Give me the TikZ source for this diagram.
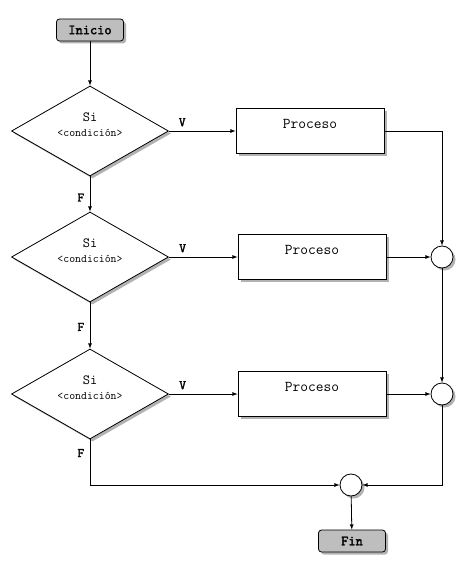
\documentclass[tikz,border=0pt]{standalone}
\usepackage{fontspec}
\setmonofont[BoldFont=*,BoldFeatures={FakeBold=2.5}]{Latin Modern Mono}
\usetikzlibrary{shapes.geometric,shadows}
\definecolor{termgray}{RGB}{190,190,190}
\tikzset{
  softshadow/.style={drop shadow={shadow xshift=2.5pt,shadow yshift=-2.5pt,fill=black!60,opacity=.5}},
  term/.style={rectangle,rounded corners=3pt,draw,fill=termgray,minimum width=67pt,minimum height=22pt,softshadow,font=\ttfamily\bfseries\fontsize{14}{16}\selectfont},
  cond/.style={diamond,draw,fill=white,minimum width=157pt,minimum height=90pt,aspect=1.74,inner sep=0pt,softshadow},
  condtext/.style={align=center,inner sep=0pt,font=\ttfamily\fontsize{14}{15}\selectfont},
  proc/.style={rectangle,draw,fill=white,minimum width=148pt,minimum height=45pt,softshadow},
  proctext/.style={inner sep=0pt,font=\ttfamily\fontsize{15}{17}\selectfont},
  merge/.style={circle,draw,fill=white,minimum size=22pt,inner sep=0pt,softshadow},
  tag/.style={font=\ttfamily\bfseries\fontsize{13}{15}\selectfont},
}
\begin{document}
\begin{tikzpicture}[x=1pt,y=-1pt,>=latex,line width=0.8pt]
\useasboundingbox (0,0) rectangle (465,564);

\node[term] (inicio) at (90,30) {Inicio};

\node[cond] (c1) at (90,131) {};
\node[cond] (c2) at (90,257) {};
\node[cond] (c3) at (90,394) {};
\node[condtext] (ct1) at ([yshift=6pt]c1.center) {Si\\[0pt]{\fontsize{11.5}{12}\selectfont <condición>}};
\node[condtext] (ct2) at ([yshift=6pt]c2.center) {Si\\[0pt]{\fontsize{11.5}{12}\selectfont <condición>}};
\node[condtext] (ct3) at ([yshift=6pt]c3.center) {Si\\[0pt]{\fontsize{11.5}{12}\selectfont <condición>}};

\node[proc] (p1) at (310,131) {};
\node[proc] (p2) at (312,257) {};
\node[proc] (p3) at (312,394) {};
\node[proctext] (pt1) at ([yshift=7pt]p1.center) {Proceso};
\node[proctext] (pt2) at ([yshift=7pt]p2.center) {Proceso};
\node[proctext] (pt3) at ([yshift=7pt]p3.center) {Proceso};

\node[merge] (m1) at (442,257) {};
\node[merge] (m2) at (442,394) {};
\node[merge] (m3) at (351,485) {};

\node[term] (fin) at (352,541) {Fin};

\draw[->] (inicio) -- (c1);
\draw[->] (c1) -- (p1) node[tag,above=1pt,pos=.2]{V};
\draw[->] (c1) -- (c2) node[tag,left=2pt,pos=.6]{F};
\draw[->] (c2) -- (p2) node[tag,above=1pt,pos=.2]{V};
\draw[->] (c2) -- (c3) node[tag,left=2pt,pos=.53]{F};
\draw[->] (c3) -- (p3) node[tag,above=1pt,pos=.2]{V};
\draw[->] (c3) |- (m3) node[tag,left=2pt,pos=.15]{F};
\draw[->] (p1) -| (m1);
\draw[->] (p2) -- (m1);
\draw[->] (m1) -- (m2);
\draw[->] (p3) -- (m2);
\draw[->] (m2) |- (m3);
\draw[->] (m3) -- (fin);

\end{tikzpicture}
\end{document}
